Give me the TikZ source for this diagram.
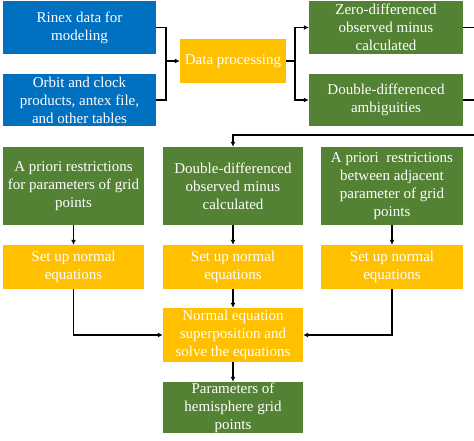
\documentclass[tikz,border=0pt]{standalone}
\usepackage{fontspec}
\setmainfont{Liberation Serif}
\newfontfamily\tnr{Liberation Serif}
\usetikzlibrary{arrows.meta}
\definecolor{cblue}{HTML}{0070C0}
\definecolor{cgreen}{HTML}{548235}
\definecolor{cyellow}{HTML}{FFC000}
\tikzset{
  boxbase/.style={text=white, align=center, inner sep=0pt, font=\tnr\fontsize{15}{18}\selectfont},
  bluebox/.style={boxbase, fill=cblue, minimum width=153pt},
  greenbox/.style={boxbase, fill=cgreen},
  yellowbox/.style={boxbase, fill=cyellow},
  conn/.style={line width=1.2pt, -{Latex[length=5pt,width=5pt]}},
  plain/.style={line width=1.2pt}
}
\begin{document}
\begin{tikzpicture}[x=1pt,y=-1pt]
\useasboundingbox (0,0) rectangle (474,440);
% row 1
\node[bluebox, minimum height=53pt] (rinex) at (79.5,27.5) {Rinex data for\\modeling};
\node[bluebox, minimum height=52pt] (orbit) at (79.5,100) {Orbit and clock\\products, antex file,\\and other tables};
\node[yellowbox, minimum width=106pt, minimum height=44pt] (dp) at (233,61) {Data processing};
\node[greenbox, minimum width=154pt, minimum height=53pt] (zero) at (386,27.5) {Zero-differenced\\observed minus\\calculated};
\node[greenbox, minimum width=154pt, minimum height=52pt] (amb) at (386,100) {Double-differenced\\ambiguities};
% row 2
\node[greenbox, minimum width=141pt, minimum height=78pt] (apl) at (73.5,186) {A priori restrictions\\for parameters of grid\\points};
\node[greenbox, minimum width=140pt, minimum height=78pt] (ddo) at (233,186) {Double-differenced\\observed minus\\calculated};
\node[greenbox, minimum width=142pt, minimum height=78pt] (apr) at (392,186) {A priori\ \ restrictions\\between adjacent\\parameter of grid\\points};
% row 3
\node[yellowbox, minimum width=141pt, minimum height=44pt] (sl) at (73.5,267) {Set up normal\\equations};
\node[yellowbox, minimum width=140pt, minimum height=44pt] (sm) at (233,267) {Set up normal\\equations};
\node[yellowbox, minimum width=142pt, minimum height=44pt] (sr) at (392,267) {Set up normal\\equations};
% row 4
\node[yellowbox, minimum width=140pt, minimum height=54pt] (neq) at (233,335) {Normal equation\\superposition and\\solve the equations};
\node[greenbox, minimum width=140pt, minimum height=51pt] (par) at (233,407.5) {Parameters of\\hemisphere grid\\points};
% connectors
\coordinate (j1) at (166,61);
\draw[plain] (rinex.east) -| (j1);
\draw[plain] (orbit.east) -| (j1);
\draw[conn] (j1) -- (dp.west);
\coordinate (j2) at (295,61);
\draw[plain] (dp.east) -- (j2);
\draw[conn] (j2) |- (zero.west);
\draw[conn] (j2) |- (amb.west);
\coordinate (r1) at (476,27.5);
\coordinate (r2) at (476,135);
\draw[plain] (zero.east) -- (r1) -- (r2);
\draw[plain] (amb.east) -- (476,100);
\draw[conn] (r2) -| (ddo.north);
\draw[conn] (apl.south) -- (sl.north);
\draw[conn] (ddo.south) -- (sm.north);
\draw[conn] (apr.south) -- (sr.north);
\draw[conn] (sl.south) |- (neq.west);
\draw[conn] (sr.south) |- (neq.east);
\draw[conn] (sm.south) -- (neq.north);
\draw[conn] (neq.south) -- (par.north);
\end{tikzpicture}
\end{document}
